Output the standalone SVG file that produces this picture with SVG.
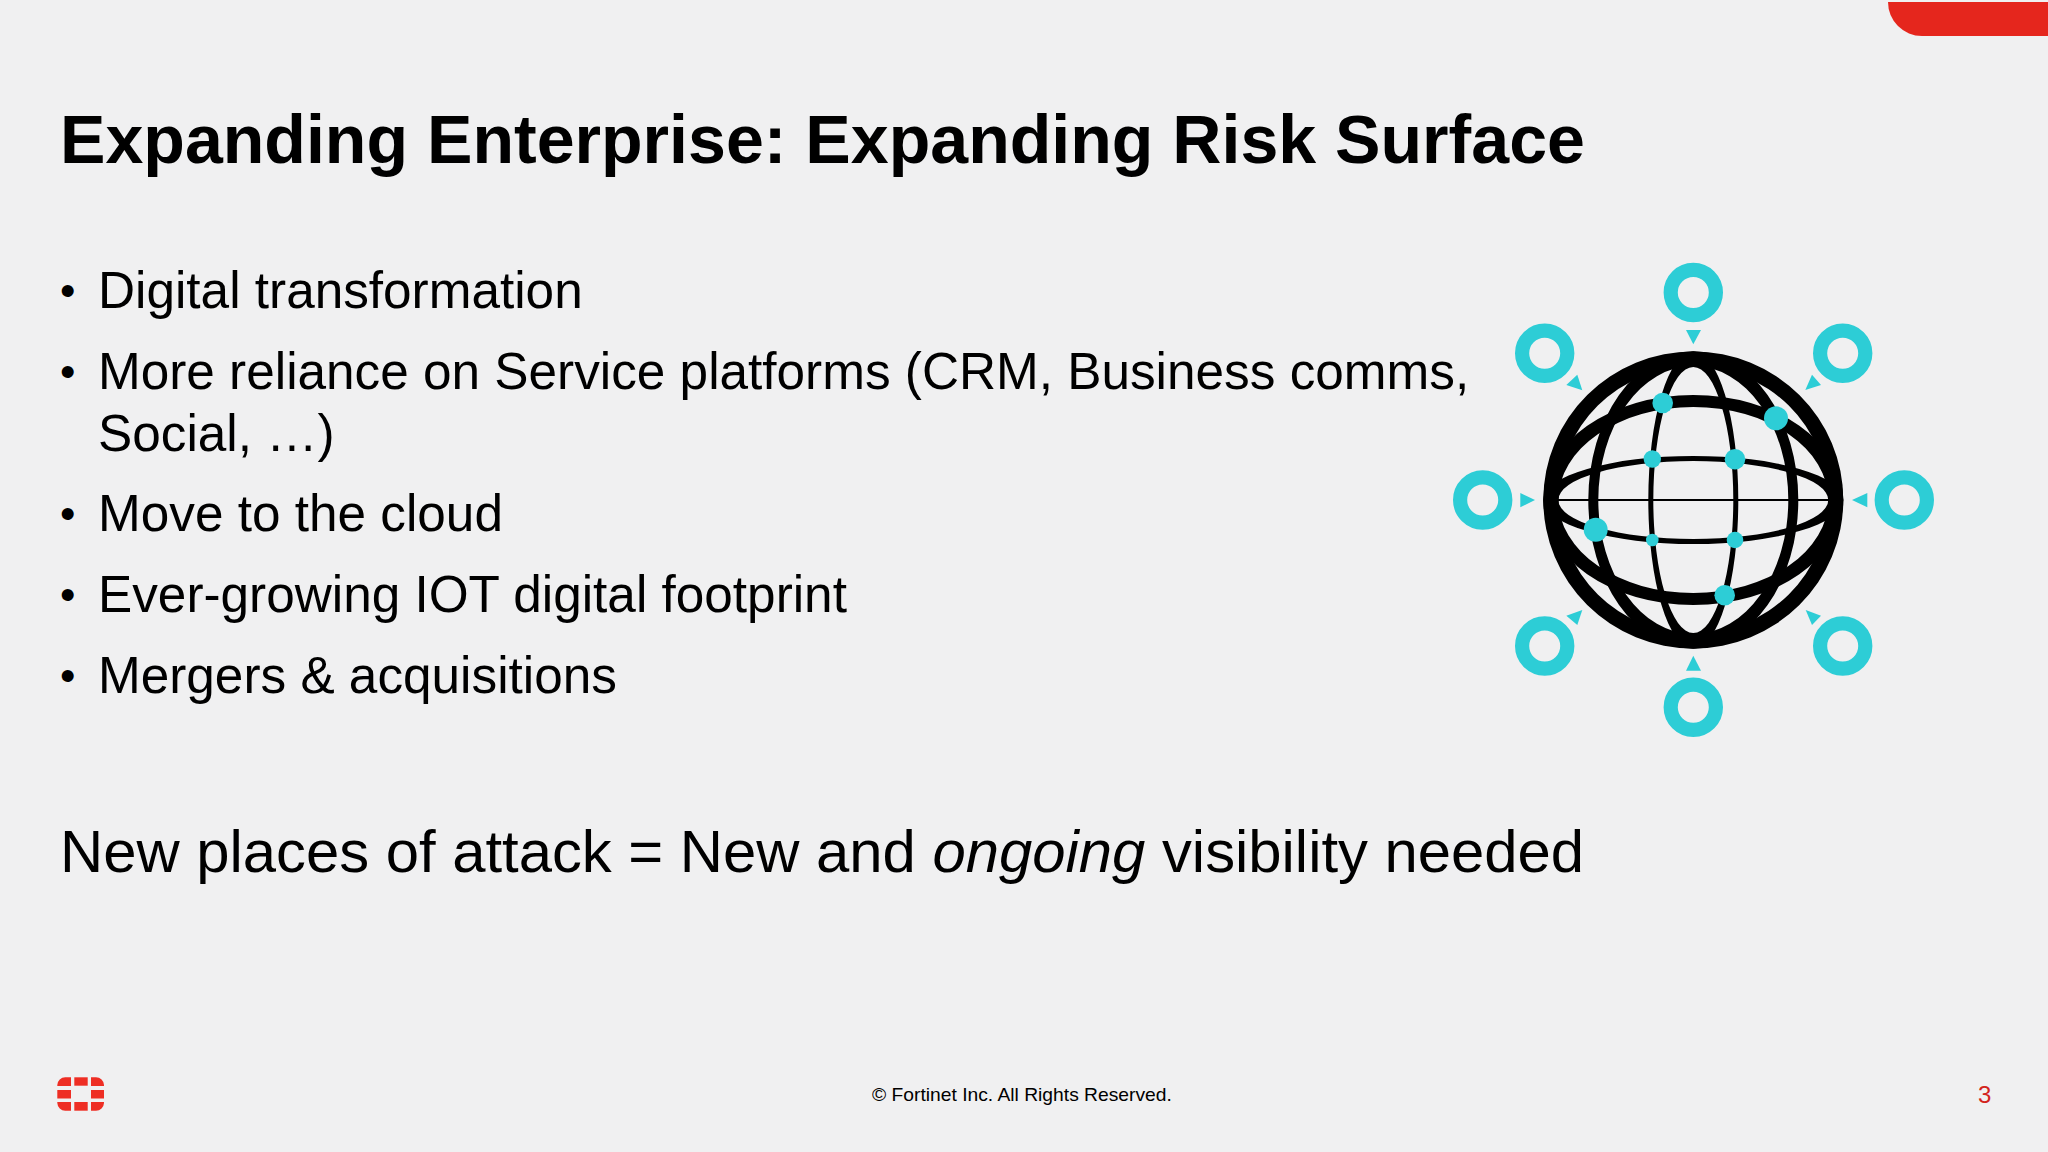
<svg xmlns="http://www.w3.org/2000/svg" width="2048" height="1152" viewBox="0 0 2048 1152">
<style>
text{font-family:"Liberation Sans",Arial,sans-serif;fill:#000}
.b{font-size:51.3px}
.d{font-size:44px}
.l{fill:#000;fill-rule:evenodd}
.t{fill:#2dcdd6}
.r{fill:none;stroke:#2dcdd6;stroke-width:14.2}
.k{fill:#ee2e24}
</style>
<rect width="2048" height="1152" fill="#f0f0f1"/>
<path d="M1888 2H2048V36H1922A34 34 0 0 1 1888 2Z" fill="#e5261d"/>
<text id="title" x="60" y="163" font-size="68.1" font-weight="700">Expanding Enterprise: Expanding Risk Surface</text>
<g id="bullets">
<text class="d" x="60" y="306">•</text><text class="b" x="98" y="308">Digital transformation</text>
<text class="d" x="60" y="387">•</text><text class="b" x="98" y="389">More reliance on Service platforms (CRM, Business comms,</text>
<text class="b" x="98" y="451">Social, …)</text>
<text class="d" x="60" y="529">•</text><text class="b" x="98" y="531">Move to the cloud</text>
<text class="d" x="60" y="610">•</text><text class="b" x="98" y="612">Ever-growing IOT digital footprint</text>
<text class="d" x="60" y="691">•</text><text class="b" x="98" y="693">Mergers &amp; acquisitions</text>
</g>
<text id="tagline" x="60" y="872" font-size="59.8">New places of attack = New and <tspan font-style="italic">ongoing</tspan> visibility needed</text>
<g id="globe">
<path class="l" d="M1543.3 500a150 148.5 0 1 0 300 0a150 148.5 0 1 0-300 0ZM1558.3 500a135 133.5 0 1 0 270 0a135 133.5 0 1 0-270 0Z"/>
<path class="l" d="M1588.3 500a105 148.5 0 1 0 210 0a105 148.5 0 1 0-210 0ZM1598.3 500a95 134 0 1 0 190 0a95 134 0 1 0-190 0Z"/>
<path class="l" d="M1648.3 500a45 148.5 0 1 0 90 0a45 148.5 0 1 0-90 0ZM1653.3 500a40 133 0 1 0 80 0a40 133 0 1 0-80 0Z"/>
<path class="l" d="M1543.3 500a150 105 0 1 0 300 0a150 105 0 1 0-300 0ZM1558.3 500a135 93 0 1 0 270 0a135 93 0 1 0-270 0Z"/>
<path class="l" d="M1543.3 500a150 44 0 1 0 300 0a150 44 0 1 0-300 0ZM1558.3 500a135 39 0 1 0 270 0a135 39 0 1 0-270 0Z"/>
<rect x="1556" y="499" width="274" height="2"/>
</g>
<g id="globe-dots" class="t">
<circle cx="1662.7" cy="403" r="10.3"/><circle cx="1776" cy="418.3" r="12"/>
<circle cx="1652.3" cy="459" r="8.7"/><circle cx="1735" cy="459.3" r="10.3"/>
<circle cx="1595.7" cy="529.7" r="12"/><circle cx="1652.3" cy="540" r="6.3"/>
<circle cx="1735" cy="540" r="8.3"/><circle cx="1724.7" cy="595.3" r="10.3"/>
</g>
<g id="node-n"><circle class="r" cx="1693.3" cy="292.5" r="22.6"/></g>
<g id="node-ne"><circle class="r" cx="1842.7" cy="353.3" r="22.6"/></g>
<g id="node-e"><circle class="r" cx="1904.3" cy="500" r="22.6"/></g>
<g id="node-se"><circle class="r" cx="1842.7" cy="646" r="22.6"/></g>
<g id="node-s"><circle class="r" cx="1693.3" cy="707.3" r="22.6"/></g>
<g id="node-sw"><circle class="r" cx="1544.7" cy="646" r="22.6"/></g>
<g id="node-w"><circle class="r" cx="1482.7" cy="500" r="22.6"/></g>
<g id="node-nw"><circle class="r" cx="1544.7" cy="353.3" r="22.6"/></g>
<g id="connectors" class="t">
<polygon points="1686,330 1701,330 1693.3,344.3"/>
<polygon points="1812,374.7 1821,385 1805.3,390"/>
<polygon points="1852,500 1867.3,493 1867.3,507.3"/>
<polygon points="1805.7,610 1821,615.7 1812,625"/>
<polygon points="1686,670.7 1701,670.7 1693.3,655.7"/>
<polygon points="1566.3,615.7 1582.3,610 1577.3,625"/>
<polygon points="1520.3,493 1520.3,507.3 1535,500"/>
<polygon points="1577.3,374.7 1566.3,385 1582.3,390.3"/>
</g>
<g id="logo" class="k">
<path d="M57.3 1086V1085A8 8 0 0 1 65.3 1077.3H71V1086Z"/>
<rect x="74.3" y="1077.3" width="13.4" height="8.4"/>
<path d="M91 1077.3H96A8 8 0 0 1 104 1085V1086H91Z"/>
<rect x="57.3" y="1090" width="13.7" height="8.5"/>
<rect x="91" y="1090" width="13" height="8.5"/>
<path d="M57.3 1102H71V1110.7H65.3A8 8 0 0 1 57.3 1103Z"/>
<rect x="74.3" y="1102" width="13.4" height="8.7"/>
<path d="M91 1102H104V1103A8 8 0 0 1 96 1110.7H91Z"/>
</g>
<text id="footer" x="872" y="1101" font-size="19.25">© Fortinet Inc. All Rights Reserved.</text>
<text id="page" x="1978" y="1103" font-size="24" style="fill:#d3241c">3</text>
</svg>
